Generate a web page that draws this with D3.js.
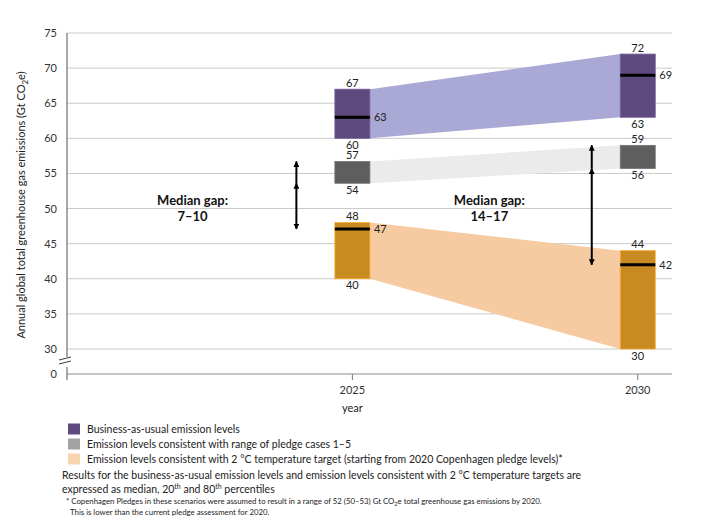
<!DOCTYPE html>
<html>
<head>
<meta charset="utf-8">
<script src="https://cdn.jsdelivr.net/npm/d3@7"></script>
<style>
  body { margin: 0; background: #fff; }
  svg { font-family: Lato, "Open Sans", sans-serif; }
</style>
</head>
<body>
<svg id="chart" width="720" height="519"></svg>
<script>
// data
var years = [2025, 2030];
var bauLow = [60, 63];
var bauMed = [63, 69];
var bauHigh = [67, 72];
var pledgeLow = [53.6, 55.7];
var pledgeHigh = [56.7, 59];
var targetLow = [40, 30];
var targetMed = [47.1, 42];
var targetHigh = [48, 44];
var yTicks = [30, 35, 40, 45, 50, 55, 60, 65, 70, 75];
var gapLabels = ["7–10", "14–17"];
var legendItems = [
    { label: "Business-as-usual emission levels", color: "#5f4a7e" },
    { label: "Emission levels consistent with range of pledge cases 1–5", color: "#a3a3a3" },
    { label: "Emission levels consistent with 2 °C temperature target (starting from 2020 Copenhagen pledge levels)*", color: "#f8d4b0" }
];

var svg = d3.select("svg#chart");
var left = 67, right = 672;
var barW = 35;

var x = d3.scaleLinear().domain([2020, 2030.6]).range([left, right]);
var y = d3.scaleLinear().domain([30, 75]).range([349, 33]);
var yZero = y(30) + 25;

var series = [
    { low: bauLow, med: bauMed, high: bauHigh, bar: "#5f4a7e", band: "#aaa8d4" },
    { low: pledgeLow, med: null, high: pledgeHigh, bar: "#5e5e5e", band: "#ebebeb" },
    { low: targetLow, med: targetMed, high: targetHigh, bar: "#c98a22", band: "#f6cba1" }
];

// gridlines
svg.append("g").selectAll("line")
    .data(yTicks)
    .enter().append("line")
    .attr("x1", left).attr("x2", right)
    .attr("y1", function(d) { return y(d); })
    .attr("y2", function(d) { return y(d); })
    .attr("stroke", "#c9c9c9")
    .attr("stroke-width", 1);

// y tick labels
svg.append("g").selectAll("text")
    .data(yTicks)
    .enter().append("text")
    .attr("x", 57)
    .attr("y", function(d) { return y(d) + 4; })
    .attr("text-anchor", "end")
    .attr("font-size", 11)
    .attr("fill", "#333")
    .text(function(d) { return d; });

svg.append("text")
    .attr("x", 57).attr("y", yZero + 4)
    .attr("text-anchor", "end")
    .attr("font-size", 11)
    .attr("fill", "#333")
    .text("0");

// axes
svg.append("line")
    .attr("x1", left).attr("x2", right)
    .attr("y1", yZero).attr("y2", yZero)
    .attr("stroke", "#8c8c8c");
svg.append("line")
    .attr("x1", left).attr("x2", left)
    .attr("y1", y(75)).attr("y2", y(30) + 8)
    .attr("stroke", "#555");
svg.append("line")
    .attr("x1", left).attr("x2", left)
    .attr("y1", y(30) + 18).attr("y2", yZero + 6)
    .attr("stroke", "#555");
// axis break
[0, 4].forEach(function(off) {
    var by = y(30) + 10 + off;
    svg.append("path")
        .attr("d", "M" + (left - 8) + "," + (by + 1) + " L" + (left + 4) + "," + (by - 2))
        .attr("stroke", "#444").attr("stroke-width", 1.2).attr("fill", "none");
});

svg.append("g").selectAll("line")
    .data(years)
    .enter().append("line")
    .attr("x1", function(d) { return x(d); })
    .attr("x2", function(d) { return x(d); })
    .attr("y1", yZero).attr("y2", yZero + 6)
    .attr("stroke", "#777");

svg.append("g").selectAll("text")
    .data(years)
    .enter().append("text")
    .attr("x", function(d) { return x(d); })
    .attr("y", yZero + 20)
    .attr("text-anchor", "middle")
    .attr("font-size", 11)
    .attr("fill", "#333")
    .text(function(d) { return d; });

svg.append("text")
    .attr("x", x(2025)).attr("y", 412)
    .attr("text-anchor", "middle")
    .attr("font-size", 11)
    .attr("fill", "#222")
    .text("year");

// y label
var ylab = svg.append("text")
    .attr("transform", "translate(25,205) rotate(-90)")
    .attr("text-anchor", "middle")
    .attr("font-size", 11)
    .attr("fill", "#222");
ylab.append("tspan").text("Annual global total greenhouse gas emissions (Gt CO");
ylab.append("tspan").attr("font-size", 8).attr("dy", 3).text("2");
ylab.append("tspan").attr("dy", -3).text("e)");

// bands between the two bars
series.forEach(function(s) {
    var pts = [
        [x(years[0]) + barW / 2, y(s.high[0])],
        [x(years[1]) - barW / 2, y(s.high[1])],
        [x(years[1]) - barW / 2, y(s.low[1])],
        [x(years[0]) + barW / 2, y(s.low[0])]
    ];
    svg.append("path")
        .attr("d", d3.line()(pts) + "Z")
        .attr("fill", s.band);
});

// bars, medians, value labels
series.forEach(function(s) {
    years.forEach(function(yr, i) {
        var cx = x(yr);
        svg.append("rect")
            .attr("x", cx - barW / 2)
            .attr("y", y(s.high[i]))
            .attr("width", barW)
            .attr("height", y(s.low[i]) - y(s.high[i]))
            .attr("fill", s.bar)
            .attr("stroke", d3.color(s.bar).brighter(0.6))
            .attr("stroke-width", 0.8);
        svg.append("text")
            .attr("x", cx).attr("y", y(s.high[i]) - 2.5)
            .attr("text-anchor", "middle")
            .attr("font-size", 11).attr("fill", "#222")
            .text(Math.round(s.high[i]));
        svg.append("text")
            .attr("x", cx).attr("y", y(s.low[i]) + 10.5)
            .attr("text-anchor", "middle")
            .attr("font-size", 11).attr("fill", "#222")
            .text(Math.round(s.low[i]));
        if (s.med) {
            svg.append("line")
                .attr("x1", cx - barW / 2).attr("x2", cx + barW / 2)
                .attr("y1", y(s.med[i])).attr("y2", y(s.med[i]))
                .attr("stroke", "#000").attr("stroke-width", 3);
            svg.append("text")
                .attr("x", cx + barW / 2 + 4).attr("y", y(s.med[i]) + 4)
                .attr("font-size", 11).attr("fill", "#222")
                .text(Math.round(s.med[i]));
        }
    });
});

// gap arrows
var defs = svg.append("defs");
defs.append("marker")
    .attr("id", "head")
    .attr("viewBox", "0 0 10 10")
    .attr("refX", 9).attr("refY", 5)
    .attr("markerWidth", 3).attr("markerHeight", 3)
    .attr("orient", "auto-start-reverse")
    .append("path").attr("d", "M0,0 L10,5 L0,10 Z").attr("fill", "#000");

var arrowOffset = [56, 46];
years.forEach(function(yr, i) {
    var ax = x(yr) - arrowOffset[i];
    svg.append("line")
        .attr("x1", ax).attr("x2", ax)
        .attr("y1", y(pledgeLow[i])).attr("y2", y(pledgeHigh[i]))
        .attr("stroke", "#000").attr("stroke-width", 2)
        .attr("marker-end", "url(#head)");
    svg.append("line")
        .attr("x1", ax).attr("x2", ax)
        .attr("y1", y(targetMed[i])).attr("y2", y(pledgeLow[i]))
        .attr("stroke", "#000").attr("stroke-width", 2)
        .attr("marker-start", "url(#head)")
        .attr("marker-end", "url(#head)");
});

var gapX = [2022.2, 2027.4];
gapLabels.forEach(function(g, i) {
    var t = svg.append("text")
        .attr("x", x(gapX[i])).attr("y", 205)
        .attr("text-anchor", "middle")
        .attr("font-size", 13).attr("font-weight", "bold")
        .attr("fill", "#111");
    t.append("tspan").attr("x", x(gapX[i])).text("Median gap:");
    t.append("tspan").attr("x", x(gapX[i])).attr("dy", 16).text(g);
});

// legend
var leg = svg.append("g").selectAll("g")
    .data(legendItems)
    .enter().append("g")
    .attr("transform", function(d, i) { return "translate(68," + (423.5 + i * 15) + ")"; });
leg.append("rect")
    .attr("width", 12).attr("height", 11)
    .attr("fill", function(d) { return d.color; });
leg.append("text")
    .attr("x", 19).attr("y", 9.5)
    .attr("font-size", 10.5).attr("fill", "#222")
    .text(function(d) { return d.label; });

var note = svg.append("text")
    .attr("x", 62).attr("y", 479)
    .attr("font-size", 10.5).attr("fill", "#222");
note.append("tspan").attr("x", 62)
    .text("Results for the business-as-usual emission levels and emission levels consistent with 2 °C temperature targets are");
var n2 = note.append("tspan").attr("x", 62).attr("dy", 13.5);
n2.text("expressed as median, 20");
note.append("tspan").attr("font-size", 7).attr("dy", -4).text("th");
note.append("tspan").attr("dy", 4).text(" and 80");
note.append("tspan").attr("font-size", 7).attr("dy", -4).text("th");
note.append("tspan").attr("dy", 4).text(" percentiles");

var foot = svg.append("text")
    .attr("x", 66).attr("y", 504)
    .attr("font-size", 7.8).attr("fill", "#222");
foot.append("tspan").text("* Copenhagen Pledges in these scenarios were assumed to result in a range of 52 (50–53) Gt CO");
foot.append("tspan").attr("font-size", 5.5).attr("dy", 2).text("2");
foot.append("tspan").attr("dy", -2).text("e total greenhouse gas emissions by 2020.");
svg.append("text")
    .attr("x", 70).attr("y", 515)
    .attr("font-size", 7.8).attr("fill", "#222")
    .text("This is lower than the current pledge assessment for 2020.");
</script>
</body>
</html>
